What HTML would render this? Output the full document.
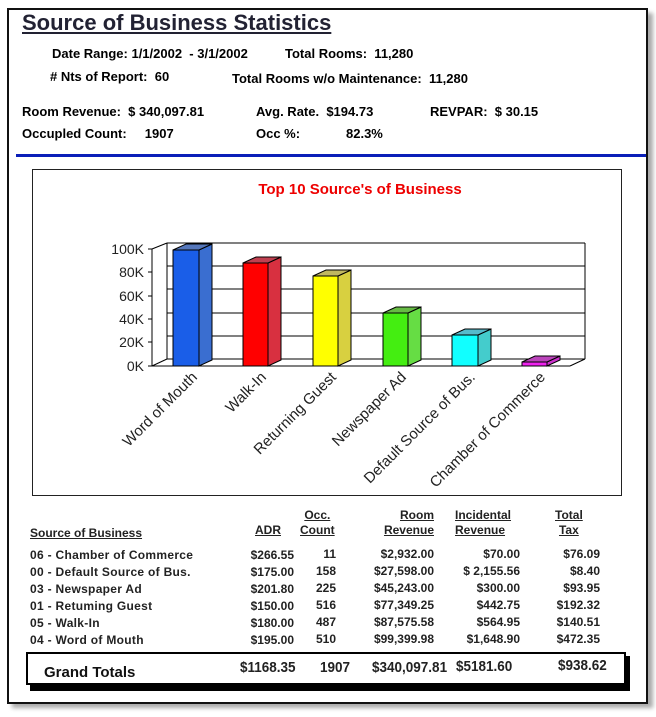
<!DOCTYPE html>
<html><head><meta charset="utf-8"><style>
body{margin:0;width:656px;height:717px;background:#fff;position:relative;overflow:hidden;font-family:"Liberation Sans",Arial,sans-serif;}
.a{position:absolute;white-space:nowrap;}
.b{font-weight:bold;}
.t{font-size:12px;font-weight:bold;color:#222;}
.r{text-align:right;}
.u{text-decoration:underline;}
.g{font-size:15px;font-weight:bold;color:#222;transform:scaleX(0.9);transform-origin:left top;}
</style></head><body>
<div class="a" style="left:12px;top:13px;width:641px;height:695px;background:#aaa;filter:blur(2px)"></div>
<div class="a" style="left:7px;top:8px;width:637px;height:692px;border:2px solid #111;background:#fff"></div>
<div class="a b u" style="left:22px;top:10px;font-size:22px;color:#223">Source of Business Statistics</div>
<div class="a b" style="left:52px;top:46px;font-size:13px">Date Range: 1/1/2002 &nbsp;- 3/1/2002</div>
<div class="a b" style="left:285px;top:46px;font-size:13px">Total Rooms: &nbsp;11,280</div>
<div class="a b" style="left:50px;top:69px;font-size:13px"># Nts of Report: &nbsp;60</div>
<div class="a b" style="left:232px;top:71px;font-size:13px">Total Rooms w/o Maintenance: &nbsp;11,280</div>
<div class="a b" style="left:22px;top:104px;font-size:13px">Room Revenue: &nbsp;$ 340,097.81</div>
<div class="a b" style="left:256px;top:104px;font-size:13px">Avg. Rate. &nbsp;$194.73</div>
<div class="a b" style="left:430px;top:104px;font-size:13px">REVPAR: &nbsp;$ 30.15</div>
<div class="a b" style="left:22px;top:126px;font-size:13px">Occupled Count: &nbsp;&nbsp;&nbsp;&nbsp;1907</div>
<div class="a b" style="left:256px;top:126px;font-size:13px">Occ %:</div>
<div class="a b" style="left:346px;top:126px;font-size:13px">82.3%</div>
<div class="a" style="left:16px;top:154px;width:630px;height:3px;background:#0a1fb8"></div>
<div class="a" style="left:32px;top:169px;width:588px;height:325px;border:1px solid #222"></div>
<svg class="a" style="left:0;top:0" width="656" height="717" font-family="Liberation Sans,Arial,sans-serif">
<text x="360" y="194" fill="#e00" font-size="15" font-weight="bold" text-anchor="middle">Top 10 Source's of Business</text>
<g stroke="#000" stroke-width="1" fill="none">
<line x1="167" y1="243" x2="585" y2="243"/><line x1="167" y1="266" x2="585" y2="266"/><line x1="167" y1="289" x2="585" y2="289"/><line x1="167" y1="313" x2="585" y2="313"/><line x1="167" y1="336" x2="585" y2="336"/><line x1="167" y1="359" x2="585" y2="359"/>
<line x1="167" y1="243" x2="167" y2="359"/><line x1="585" y1="243" x2="585" y2="359"/>
<line x1="152" y1="249" x2="152" y2="366"/><line x1="152" y1="366" x2="570" y2="366"/><line x1="570" y1="366" x2="585" y2="359"/>
<line x1="152" y1="249" x2="167" y2="243"/><line x1="152" y1="366" x2="167" y2="359"/>
<line x1="148" y1="249" x2="152" y2="249"/><line x1="148" y1="272" x2="152" y2="272"/><line x1="148" y1="296" x2="152" y2="296"/><line x1="148" y1="319" x2="152" y2="319"/><line x1="148" y1="342" x2="152" y2="342"/><line x1="148" y1="366" x2="152" y2="366"/>
</g>
<g font-size="14" fill="#222" text-anchor="end">
<text x="144" y="254">100K</text><text x="144" y="277">80K</text><text x="144" y="301">60K</text><text x="144" y="324">40K</text><text x="144" y="347">20K</text><text x="144" y="371">0K</text>
</g>
<g stroke="#000" stroke-width="1">
<rect x="173" y="250" width="26" height="116" fill="#1a5ee8"/><polygon points="199,250 212,244 212,360 199,366" fill="#3a6ed0"/><polygon points="173,250 186,244 212,244 199,250" fill="#5577bb"/>
<rect x="243" y="263" width="25" height="103" fill="#ff0000"/><polygon points="268,263 281,257 281,360 268,366" fill="#d83040"/><polygon points="243,263 256,257 281,257 268,263" fill="#c04050"/>
<rect x="313" y="276" width="25" height="90" fill="#ffff00"/><polygon points="338,276 351,270 351,360 338,366" fill="#d8d040"/><polygon points="313,276 326,270 351,270 338,276" fill="#c0b860"/>
<rect x="383" y="313" width="25" height="53" fill="#44ee11"/><polygon points="408,313 421,307 421,360 408,366" fill="#66dd44"/><polygon points="383,313 396,307 421,307 408,313" fill="#66bb44"/>
<rect x="452" y="335" width="26" height="31" fill="#11ffff"/><polygon points="478,335 491,329 491,360 478,366" fill="#44cccc"/><polygon points="452,335 465,329 491,329 478,335" fill="#55bbcc"/>
<rect x="522" y="362" width="25" height="4" fill="#ee22ee"/><polygon points="547,362 560,356 560,360 547,366" fill="#cc33cc"/><polygon points="522,362 535,356 560,356 547,362" fill="#bb44bb"/>
</g>
<g font-size="15" fill="#222" text-anchor="end">
<text transform="translate(198,378) rotate(-45)">Word of Mouth</text>
<text transform="translate(267,378) rotate(-45)">Walk-In</text>
<text transform="translate(337,378) rotate(-45)">Returning Guest</text>
<text transform="translate(407,378) rotate(-45)">Newspaper Ad</text>
<text transform="translate(476,378) rotate(-45)">Default Source of Bus.</text>
<text transform="translate(546,378) rotate(-45)">Chamber of Commerce</text>
</g>
</svg>
<div class="a t u" style="left:30px;top:526px">Source of Business</div>
<div class="a t u" style="left:255px;top:523px">ADR</div>
<div class="a t u" style="left:300px;top:508px;line-height:15px;text-align:center">Occ.<br>Count</div>
<div class="a t u r" style="left:372px;top:508px;width:62px;line-height:15px">Room<br>Revenue</div>
<div class="a t u" style="left:455px;top:508px;line-height:15px">Incidental<br>Revenue</div>
<div class="a t u" style="left:555px;top:508px;line-height:15px;text-align:center">Total<br>Tax</div>
<div class="a t" style="left:30px;top:547px;line-height:17px;letter-spacing:0.3px">06 - Chamber of Commerce<br>00 - Default Source of Bus.<br>03 - Newspaper Ad<br>01 - Retuming Guest<br>05 - Walk-In<br>04 - Word of Mouth</div>
<div class="a t r" style="left:230px;top:547px;width:64px;line-height:17px">$266.55<br>$175.00<br>$201.80<br>$150.00<br>$180.00<br>$195.00</div>
<div class="a t r" style="left:290px;top:546px;width:46px;line-height:17px">11<br>158<br>225<br>516<br>487<br>510</div>
<div class="a t r" style="left:350px;top:546px;width:84px;line-height:17px">$2,932.00<br>$27,598.00<br>$45,243.00<br>$77,349.25<br>$87,575.58<br>$99,399.98</div>
<div class="a t r" style="left:440px;top:546px;width:80px;line-height:17px">$70.00<br>$ 2,155.56<br>$300.00<br>$442.75<br>$564.95<br>$1,648.90</div>
<div class="a t r" style="left:540px;top:546px;width:60px;line-height:17px">$76.09<br>$8.40<br>$93.95<br>$192.32<br>$140.51<br>$472.35</div>
<div class="a" style="left:30px;top:656px;width:600px;height:35px;background:#000"></div>
<div class="a" style="left:26px;top:652px;width:600px;height:33px;border:2px solid #000;background:#fff;box-sizing:border-box"></div>
<div class="a b" style="left:44px;top:664px;font-size:15px;color:#111">Grand Totals</div>
<div class="a g" style="left:240px;top:659px">$1168.35</div>
<div class="a g" style="left:320px;top:659px">1907</div>
<div class="a g" style="left:372px;top:659px">$340,097.81</div>
<div class="a g" style="left:456px;top:658px">$5181.60</div>
<div class="a g" style="left:558px;top:657px">$938.62</div>
</body></html>
